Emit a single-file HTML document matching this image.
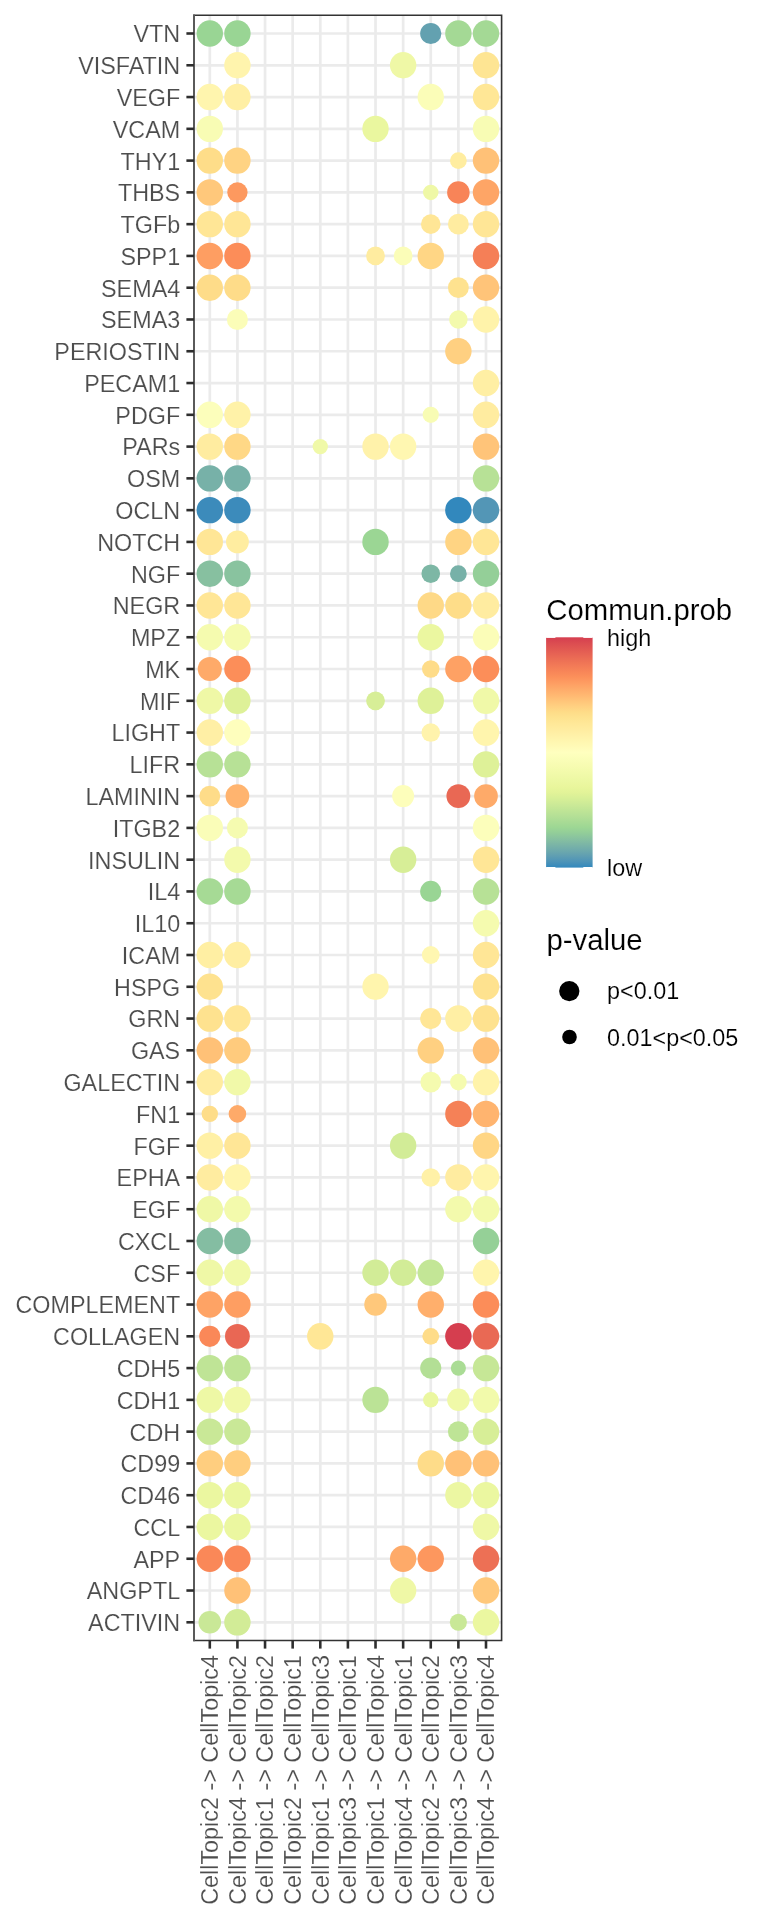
<!DOCTYPE html><html><head><meta charset="utf-8"><style>html,body{margin:0;padding:0;background:#fff;}svg{display:block;will-change:transform;}text{font-family:"Liberation Sans",sans-serif;}</style></head><body>
<svg width="768" height="1920" viewBox="0 0 768 1920">
<rect x="0" y="0" width="768" height="1920" fill="#FFFFFF"/>
<g stroke="#EBEBEB" stroke-width="2.7">
<line x1="209.80" y1="15.3" x2="209.80" y2="1640.5"/>
<line x1="237.42" y1="15.3" x2="237.42" y2="1640.5"/>
<line x1="265.04" y1="15.3" x2="265.04" y2="1640.5"/>
<line x1="292.66" y1="15.3" x2="292.66" y2="1640.5"/>
<line x1="320.28" y1="15.3" x2="320.28" y2="1640.5"/>
<line x1="347.90" y1="15.3" x2="347.90" y2="1640.5"/>
<line x1="375.52" y1="15.3" x2="375.52" y2="1640.5"/>
<line x1="403.14" y1="15.3" x2="403.14" y2="1640.5"/>
<line x1="430.76" y1="15.3" x2="430.76" y2="1640.5"/>
<line x1="458.38" y1="15.3" x2="458.38" y2="1640.5"/>
<line x1="486.00" y1="15.3" x2="486.00" y2="1640.5"/>
<line x1="194.0" y1="33.50" x2="501.6" y2="33.50"/>
<line x1="194.0" y1="65.28" x2="501.6" y2="65.28"/>
<line x1="194.0" y1="97.05" x2="501.6" y2="97.05"/>
<line x1="194.0" y1="128.83" x2="501.6" y2="128.83"/>
<line x1="194.0" y1="160.60" x2="501.6" y2="160.60"/>
<line x1="194.0" y1="192.38" x2="501.6" y2="192.38"/>
<line x1="194.0" y1="224.16" x2="501.6" y2="224.16"/>
<line x1="194.0" y1="255.93" x2="501.6" y2="255.93"/>
<line x1="194.0" y1="287.71" x2="501.6" y2="287.71"/>
<line x1="194.0" y1="319.48" x2="501.6" y2="319.48"/>
<line x1="194.0" y1="351.26" x2="501.6" y2="351.26"/>
<line x1="194.0" y1="383.04" x2="501.6" y2="383.04"/>
<line x1="194.0" y1="414.81" x2="501.6" y2="414.81"/>
<line x1="194.0" y1="446.59" x2="501.6" y2="446.59"/>
<line x1="194.0" y1="478.36" x2="501.6" y2="478.36"/>
<line x1="194.0" y1="510.14" x2="501.6" y2="510.14"/>
<line x1="194.0" y1="541.92" x2="501.6" y2="541.92"/>
<line x1="194.0" y1="573.69" x2="501.6" y2="573.69"/>
<line x1="194.0" y1="605.47" x2="501.6" y2="605.47"/>
<line x1="194.0" y1="637.24" x2="501.6" y2="637.24"/>
<line x1="194.0" y1="669.02" x2="501.6" y2="669.02"/>
<line x1="194.0" y1="700.80" x2="501.6" y2="700.80"/>
<line x1="194.0" y1="732.57" x2="501.6" y2="732.57"/>
<line x1="194.0" y1="764.35" x2="501.6" y2="764.35"/>
<line x1="194.0" y1="796.12" x2="501.6" y2="796.12"/>
<line x1="194.0" y1="827.90" x2="501.6" y2="827.90"/>
<line x1="194.0" y1="859.68" x2="501.6" y2="859.68"/>
<line x1="194.0" y1="891.45" x2="501.6" y2="891.45"/>
<line x1="194.0" y1="923.23" x2="501.6" y2="923.23"/>
<line x1="194.0" y1="955.00" x2="501.6" y2="955.00"/>
<line x1="194.0" y1="986.78" x2="501.6" y2="986.78"/>
<line x1="194.0" y1="1018.56" x2="501.6" y2="1018.56"/>
<line x1="194.0" y1="1050.33" x2="501.6" y2="1050.33"/>
<line x1="194.0" y1="1082.11" x2="501.6" y2="1082.11"/>
<line x1="194.0" y1="1113.88" x2="501.6" y2="1113.88"/>
<line x1="194.0" y1="1145.66" x2="501.6" y2="1145.66"/>
<line x1="194.0" y1="1177.44" x2="501.6" y2="1177.44"/>
<line x1="194.0" y1="1209.21" x2="501.6" y2="1209.21"/>
<line x1="194.0" y1="1240.99" x2="501.6" y2="1240.99"/>
<line x1="194.0" y1="1272.76" x2="501.6" y2="1272.76"/>
<line x1="194.0" y1="1304.54" x2="501.6" y2="1304.54"/>
<line x1="194.0" y1="1336.32" x2="501.6" y2="1336.32"/>
<line x1="194.0" y1="1368.09" x2="501.6" y2="1368.09"/>
<line x1="194.0" y1="1399.87" x2="501.6" y2="1399.87"/>
<line x1="194.0" y1="1431.64" x2="501.6" y2="1431.64"/>
<line x1="194.0" y1="1463.42" x2="501.6" y2="1463.42"/>
<line x1="194.0" y1="1495.20" x2="501.6" y2="1495.20"/>
<line x1="194.0" y1="1526.97" x2="501.6" y2="1526.97"/>
<line x1="194.0" y1="1558.75" x2="501.6" y2="1558.75"/>
<line x1="194.0" y1="1590.52" x2="501.6" y2="1590.52"/>
<line x1="194.0" y1="1622.30" x2="501.6" y2="1622.30"/>
</g>
<g>
<circle cx="209.80" cy="33.50" r="13.20" fill="#99D594"/>
<circle cx="237.42" cy="33.50" r="13.20" fill="#99D594"/>
<circle cx="430.76" cy="33.50" r="10.60" fill="#63A1B0"/>
<circle cx="458.38" cy="33.50" r="13.20" fill="#A4D995"/>
<circle cx="486.00" cy="33.50" r="13.20" fill="#A4D995"/>
<circle cx="237.42" cy="65.28" r="13.20" fill="#FFF4AD"/>
<circle cx="403.14" cy="65.28" r="13.20" fill="#EFF8A6"/>
<circle cx="486.00" cy="65.28" r="13.20" fill="#FEE593"/>
<circle cx="209.80" cy="97.05" r="13.20" fill="#FFF5AE"/>
<circle cx="237.42" cy="97.05" r="13.20" fill="#FFEFA4"/>
<circle cx="430.76" cy="97.05" r="13.20" fill="#FBFDB8"/>
<circle cx="486.00" cy="97.05" r="13.20" fill="#FFE796"/>
<circle cx="209.80" cy="128.83" r="13.20" fill="#F8FCB4"/>
<circle cx="375.52" cy="128.83" r="13.20" fill="#EAF79F"/>
<circle cx="486.00" cy="128.83" r="13.20" fill="#F8FCB4"/>
<circle cx="209.80" cy="160.60" r="13.20" fill="#FEDD89"/>
<circle cx="237.42" cy="160.60" r="13.20" fill="#FFD383"/>
<circle cx="458.38" cy="160.60" r="8.40" fill="#FFEDA0"/>
<circle cx="486.00" cy="160.60" r="13.20" fill="#FFC177"/>
<circle cx="209.80" cy="192.38" r="13.20" fill="#FFC87B"/>
<circle cx="237.42" cy="192.38" r="10.15" fill="#FD995F"/>
<circle cx="430.76" cy="192.38" r="7.75" fill="#EFF8A6"/>
<circle cx="458.38" cy="192.38" r="11.25" fill="#F88458"/>
<circle cx="486.00" cy="192.38" r="13.20" fill="#FEA566"/>
<circle cx="209.80" cy="224.16" r="13.20" fill="#FFE696"/>
<circle cx="237.42" cy="224.16" r="13.20" fill="#FFE696"/>
<circle cx="430.76" cy="224.16" r="9.80" fill="#FFE696"/>
<circle cx="458.38" cy="224.16" r="10.45" fill="#FFECA0"/>
<circle cx="486.00" cy="224.16" r="13.20" fill="#FFE696"/>
<circle cx="209.80" cy="255.93" r="13.20" fill="#FE9E62"/>
<circle cx="237.42" cy="255.93" r="13.20" fill="#FC8D59"/>
<circle cx="375.52" cy="255.93" r="9.40" fill="#FFECA0"/>
<circle cx="403.14" cy="255.93" r="9.40" fill="#FBFDB8"/>
<circle cx="430.76" cy="255.93" r="13.20" fill="#FFD685"/>
<circle cx="486.00" cy="255.93" r="13.20" fill="#F57F57"/>
<circle cx="209.80" cy="287.71" r="13.20" fill="#FEDC89"/>
<circle cx="237.42" cy="287.71" r="13.20" fill="#FEDC89"/>
<circle cx="458.38" cy="287.71" r="10.40" fill="#FEE28F"/>
<circle cx="486.00" cy="287.71" r="13.20" fill="#FFC479"/>
<circle cx="237.42" cy="319.48" r="10.55" fill="#FBFDB8"/>
<circle cx="458.38" cy="319.48" r="9.30" fill="#F3FAAD"/>
<circle cx="486.00" cy="319.48" r="13.20" fill="#FFF3AA"/>
<circle cx="458.38" cy="351.26" r="13.20" fill="#FFD081"/>
<circle cx="486.00" cy="383.04" r="13.20" fill="#FFEFA4"/>
<circle cx="209.80" cy="414.81" r="13.20" fill="#FCFEBB"/>
<circle cx="237.42" cy="414.81" r="13.20" fill="#FFF2A8"/>
<circle cx="430.76" cy="414.81" r="8.10" fill="#F8FCB4"/>
<circle cx="486.00" cy="414.81" r="13.20" fill="#FFECA0"/>
<circle cx="209.80" cy="446.59" r="13.20" fill="#FFECA0"/>
<circle cx="237.42" cy="446.59" r="13.20" fill="#FFD886"/>
<circle cx="320.28" cy="446.59" r="7.70" fill="#F0F9A8"/>
<circle cx="375.52" cy="446.59" r="13.20" fill="#FFF2AA"/>
<circle cx="403.14" cy="446.59" r="13.20" fill="#FFF7B1"/>
<circle cx="486.00" cy="446.59" r="13.20" fill="#FFC479"/>
<circle cx="209.80" cy="478.36" r="13.20" fill="#77B1A8"/>
<circle cx="237.42" cy="478.36" r="13.20" fill="#77B1A8"/>
<circle cx="486.00" cy="478.36" r="13.20" fill="#B7E196"/>
<circle cx="209.80" cy="510.14" r="13.20" fill="#3C8BBB"/>
<circle cx="237.42" cy="510.14" r="13.20" fill="#3C8BBB"/>
<circle cx="458.38" cy="510.14" r="13.20" fill="#3288BD"/>
<circle cx="486.00" cy="510.14" r="13.20" fill="#5396B6"/>
<circle cx="209.80" cy="541.92" r="13.20" fill="#FFE696"/>
<circle cx="237.42" cy="541.92" r="11.40" fill="#FFEDA0"/>
<circle cx="375.52" cy="541.92" r="13.20" fill="#9BD694"/>
<circle cx="458.38" cy="541.92" r="13.20" fill="#FFD483"/>
<circle cx="486.00" cy="541.92" r="13.20" fill="#FFE696"/>
<circle cx="209.80" cy="573.69" r="13.20" fill="#87C0A0"/>
<circle cx="237.42" cy="573.69" r="13.20" fill="#89C39F"/>
<circle cx="430.76" cy="573.69" r="9.30" fill="#7DB7A5"/>
<circle cx="458.38" cy="573.69" r="8.40" fill="#77B1A8"/>
<circle cx="486.00" cy="573.69" r="13.20" fill="#94CF98"/>
<circle cx="209.80" cy="605.47" r="13.20" fill="#FFE696"/>
<circle cx="237.42" cy="605.47" r="13.20" fill="#FFE696"/>
<circle cx="430.76" cy="605.47" r="13.20" fill="#FED987"/>
<circle cx="458.38" cy="605.47" r="13.20" fill="#FEDD89"/>
<circle cx="486.00" cy="605.47" r="13.20" fill="#FFECA0"/>
<circle cx="209.80" cy="637.24" r="13.20" fill="#F5FBAF"/>
<circle cx="237.42" cy="637.24" r="13.20" fill="#F5FBAF"/>
<circle cx="430.76" cy="637.24" r="13.20" fill="#EBF7A0"/>
<circle cx="486.00" cy="637.24" r="13.20" fill="#FBFDB8"/>
<circle cx="209.80" cy="669.02" r="12.05" fill="#FEAA69"/>
<circle cx="237.42" cy="669.02" r="13.20" fill="#FC8E59"/>
<circle cx="430.76" cy="669.02" r="8.75" fill="#FEDC89"/>
<circle cx="458.38" cy="669.02" r="13.20" fill="#FEA164"/>
<circle cx="486.00" cy="669.02" r="13.20" fill="#FC8E59"/>
<circle cx="209.80" cy="700.80" r="13.20" fill="#EFF8A6"/>
<circle cx="237.42" cy="700.80" r="13.20" fill="#DEF198"/>
<circle cx="375.52" cy="700.80" r="9.40" fill="#D7EE97"/>
<circle cx="430.76" cy="700.80" r="13.20" fill="#DEF198"/>
<circle cx="486.00" cy="700.80" r="13.20" fill="#F0F9A8"/>
<circle cx="209.80" cy="732.57" r="13.20" fill="#FFEFA5"/>
<circle cx="237.42" cy="732.57" r="13.20" fill="#FEFEBD"/>
<circle cx="430.76" cy="732.57" r="9.30" fill="#FFF3AC"/>
<circle cx="486.00" cy="732.57" r="13.20" fill="#FFF5AD"/>
<circle cx="209.80" cy="764.35" r="13.20" fill="#B7E196"/>
<circle cx="237.42" cy="764.35" r="13.20" fill="#B7E196"/>
<circle cx="486.00" cy="764.35" r="13.20" fill="#DEF198"/>
<circle cx="209.80" cy="796.12" r="10.45" fill="#FEDC89"/>
<circle cx="237.42" cy="796.12" r="11.85" fill="#FFB46F"/>
<circle cx="403.14" cy="796.12" r="11.00" fill="#FDFEBB"/>
<circle cx="458.38" cy="796.12" r="11.95" fill="#E96854"/>
<circle cx="486.00" cy="796.12" r="11.85" fill="#FEAA69"/>
<circle cx="209.80" cy="827.90" r="13.20" fill="#FAFDB8"/>
<circle cx="237.42" cy="827.90" r="10.55" fill="#F5FBB0"/>
<circle cx="486.00" cy="827.90" r="13.20" fill="#FCFEBB"/>
<circle cx="237.42" cy="859.68" r="13.20" fill="#F3FAAC"/>
<circle cx="403.14" cy="859.68" r="13.20" fill="#D7EE97"/>
<circle cx="486.00" cy="859.68" r="13.20" fill="#FFE696"/>
<circle cx="209.80" cy="891.45" r="13.20" fill="#A6DA95"/>
<circle cx="237.42" cy="891.45" r="13.20" fill="#A6DA95"/>
<circle cx="430.76" cy="891.45" r="10.60" fill="#99D594"/>
<circle cx="486.00" cy="891.45" r="13.20" fill="#B7E196"/>
<circle cx="486.00" cy="923.23" r="13.20" fill="#F5FBAF"/>
<circle cx="209.80" cy="955.00" r="13.20" fill="#FFEFA3"/>
<circle cx="237.42" cy="955.00" r="13.20" fill="#FFEEA2"/>
<circle cx="430.76" cy="955.00" r="8.90" fill="#FFF7B1"/>
<circle cx="486.00" cy="955.00" r="13.20" fill="#FFE696"/>
<circle cx="209.80" cy="986.78" r="13.20" fill="#FEE28F"/>
<circle cx="375.52" cy="986.78" r="13.20" fill="#FFF5AD"/>
<circle cx="486.00" cy="986.78" r="13.20" fill="#FEE28F"/>
<circle cx="209.80" cy="1018.56" r="13.20" fill="#FEE28F"/>
<circle cx="237.42" cy="1018.56" r="13.20" fill="#FFE696"/>
<circle cx="430.76" cy="1018.56" r="10.60" fill="#FFE696"/>
<circle cx="458.38" cy="1018.56" r="13.20" fill="#FFEFA4"/>
<circle cx="486.00" cy="1018.56" r="13.20" fill="#FEE28F"/>
<circle cx="209.80" cy="1050.33" r="13.20" fill="#FFC177"/>
<circle cx="237.42" cy="1050.33" r="13.20" fill="#FFCB7D"/>
<circle cx="430.76" cy="1050.33" r="13.20" fill="#FFD081"/>
<circle cx="486.00" cy="1050.33" r="13.20" fill="#FFC177"/>
<circle cx="209.80" cy="1082.11" r="13.20" fill="#FFECA0"/>
<circle cx="237.42" cy="1082.11" r="13.20" fill="#F1F9A9"/>
<circle cx="430.76" cy="1082.11" r="10.40" fill="#F5FBAF"/>
<circle cx="458.38" cy="1082.11" r="8.40" fill="#F5FBAF"/>
<circle cx="486.00" cy="1082.11" r="13.20" fill="#FFF3AA"/>
<circle cx="209.80" cy="1113.88" r="8.20" fill="#FEDD89"/>
<circle cx="237.42" cy="1113.88" r="8.80" fill="#FEAA69"/>
<circle cx="458.38" cy="1113.88" r="13.20" fill="#F58157"/>
<circle cx="486.00" cy="1113.88" r="13.20" fill="#FFB46F"/>
<circle cx="209.80" cy="1145.66" r="13.20" fill="#FFF0A5"/>
<circle cx="237.42" cy="1145.66" r="13.20" fill="#FFE696"/>
<circle cx="403.14" cy="1145.66" r="13.20" fill="#D2EC97"/>
<circle cx="486.00" cy="1145.66" r="13.20" fill="#FFD685"/>
<circle cx="209.80" cy="1177.44" r="13.20" fill="#FFECA0"/>
<circle cx="237.42" cy="1177.44" r="13.20" fill="#FFF5AD"/>
<circle cx="430.76" cy="1177.44" r="9.30" fill="#FFF1A7"/>
<circle cx="458.38" cy="1177.44" r="13.20" fill="#FFECA0"/>
<circle cx="486.00" cy="1177.44" r="13.20" fill="#FFF5AD"/>
<circle cx="209.80" cy="1209.21" r="13.20" fill="#EFF8A6"/>
<circle cx="237.42" cy="1209.21" r="13.20" fill="#F3FAAC"/>
<circle cx="458.38" cy="1209.21" r="13.20" fill="#F3FAAC"/>
<circle cx="486.00" cy="1209.21" r="13.20" fill="#F3FAAC"/>
<circle cx="209.80" cy="1240.99" r="13.20" fill="#84BDA2"/>
<circle cx="237.42" cy="1240.99" r="13.20" fill="#84BDA2"/>
<circle cx="486.00" cy="1240.99" r="13.20" fill="#95D097"/>
<circle cx="209.80" cy="1272.76" r="13.20" fill="#EFF8A6"/>
<circle cx="237.42" cy="1272.76" r="13.20" fill="#F1F9A9"/>
<circle cx="375.52" cy="1272.76" r="13.20" fill="#D2EC97"/>
<circle cx="403.14" cy="1272.76" r="13.20" fill="#D2EC97"/>
<circle cx="430.76" cy="1272.76" r="13.20" fill="#C3E696"/>
<circle cx="486.00" cy="1272.76" r="13.20" fill="#FFF5AD"/>
<circle cx="209.80" cy="1304.54" r="13.20" fill="#FEA365"/>
<circle cx="237.42" cy="1304.54" r="13.20" fill="#FE9E62"/>
<circle cx="375.52" cy="1304.54" r="11.25" fill="#FFC87B"/>
<circle cx="430.76" cy="1304.54" r="13.20" fill="#FFAF6C"/>
<circle cx="486.00" cy="1304.54" r="13.20" fill="#FC8D59"/>
<circle cx="209.80" cy="1336.32" r="10.60" fill="#FA8858"/>
<circle cx="237.42" cy="1336.32" r="12.40" fill="#E96754"/>
<circle cx="320.28" cy="1336.32" r="13.20" fill="#FFE796"/>
<circle cx="430.76" cy="1336.32" r="8.40" fill="#FEDC89"/>
<circle cx="458.38" cy="1336.32" r="13.20" fill="#D53E4F"/>
<circle cx="486.00" cy="1336.32" r="13.20" fill="#E96954"/>
<circle cx="209.80" cy="1368.09" r="13.20" fill="#BFE496"/>
<circle cx="237.42" cy="1368.09" r="13.20" fill="#BFE496"/>
<circle cx="430.76" cy="1368.09" r="10.60" fill="#B3DF95"/>
<circle cx="458.38" cy="1368.09" r="7.55" fill="#AADC95"/>
<circle cx="486.00" cy="1368.09" r="13.20" fill="#C6E796"/>
<circle cx="209.80" cy="1399.87" r="13.20" fill="#EEF8A5"/>
<circle cx="237.42" cy="1399.87" r="13.20" fill="#F1F9A9"/>
<circle cx="375.52" cy="1399.87" r="13.20" fill="#BBE396"/>
<circle cx="430.76" cy="1399.87" r="7.75" fill="#EBF7A0"/>
<circle cx="458.38" cy="1399.87" r="11.25" fill="#F0F9A8"/>
<circle cx="486.00" cy="1399.87" r="13.20" fill="#F2FAAB"/>
<circle cx="209.80" cy="1431.64" r="13.20" fill="#C9E897"/>
<circle cx="237.42" cy="1431.64" r="13.20" fill="#C9E897"/>
<circle cx="458.38" cy="1431.64" r="10.45" fill="#BEE496"/>
<circle cx="486.00" cy="1431.64" r="13.20" fill="#D7EE97"/>
<circle cx="209.80" cy="1463.42" r="13.20" fill="#FFCE7F"/>
<circle cx="237.42" cy="1463.42" r="13.20" fill="#FFCE7F"/>
<circle cx="430.76" cy="1463.42" r="13.20" fill="#FEDC89"/>
<circle cx="458.38" cy="1463.42" r="13.20" fill="#FFC177"/>
<circle cx="486.00" cy="1463.42" r="13.20" fill="#FFC177"/>
<circle cx="209.80" cy="1495.20" r="13.20" fill="#EBF7A0"/>
<circle cx="237.42" cy="1495.20" r="13.20" fill="#EBF7A0"/>
<circle cx="458.38" cy="1495.20" r="13.20" fill="#ECF7A2"/>
<circle cx="486.00" cy="1495.20" r="13.20" fill="#EBF7A0"/>
<circle cx="209.80" cy="1526.97" r="13.20" fill="#EBF7A0"/>
<circle cx="237.42" cy="1526.97" r="13.20" fill="#EBF7A0"/>
<circle cx="486.00" cy="1526.97" r="13.20" fill="#EFF8A6"/>
<circle cx="209.80" cy="1558.75" r="13.20" fill="#FA8858"/>
<circle cx="237.42" cy="1558.75" r="13.20" fill="#FA8858"/>
<circle cx="403.14" cy="1558.75" r="13.20" fill="#FEAA69"/>
<circle cx="430.76" cy="1558.75" r="13.20" fill="#FD975E"/>
<circle cx="486.00" cy="1558.75" r="13.20" fill="#ED7055"/>
<circle cx="237.42" cy="1590.52" r="13.20" fill="#FFC177"/>
<circle cx="403.14" cy="1590.52" r="13.20" fill="#EFF8A6"/>
<circle cx="486.00" cy="1590.52" r="13.20" fill="#FFC87B"/>
<circle cx="209.80" cy="1622.30" r="11.30" fill="#C9E897"/>
<circle cx="237.42" cy="1622.30" r="13.20" fill="#D2EC97"/>
<circle cx="458.38" cy="1622.30" r="8.55" fill="#C9E897"/>
<circle cx="486.00" cy="1622.30" r="13.20" fill="#EBF7A0"/>
</g>
<path d="M194.0,15.3 H501.6 V1640.5 H194.0" fill="none" stroke="#333333" stroke-width="1.6" stroke-linecap="square"/>
<line x1="194.0" y1="14.5" x2="194.0" y2="1641.3" stroke="#5A5A5A" stroke-width="2.0"/>
<g stroke="#2E2E2E" stroke-width="2.6">
<line x1="186.40" y1="33.50" x2="194.0" y2="33.50"/>
<line x1="186.40" y1="65.28" x2="194.0" y2="65.28"/>
<line x1="186.40" y1="97.05" x2="194.0" y2="97.05"/>
<line x1="186.40" y1="128.83" x2="194.0" y2="128.83"/>
<line x1="186.40" y1="160.60" x2="194.0" y2="160.60"/>
<line x1="186.40" y1="192.38" x2="194.0" y2="192.38"/>
<line x1="186.40" y1="224.16" x2="194.0" y2="224.16"/>
<line x1="186.40" y1="255.93" x2="194.0" y2="255.93"/>
<line x1="186.40" y1="287.71" x2="194.0" y2="287.71"/>
<line x1="186.40" y1="319.48" x2="194.0" y2="319.48"/>
<line x1="186.40" y1="351.26" x2="194.0" y2="351.26"/>
<line x1="186.40" y1="383.04" x2="194.0" y2="383.04"/>
<line x1="186.40" y1="414.81" x2="194.0" y2="414.81"/>
<line x1="186.40" y1="446.59" x2="194.0" y2="446.59"/>
<line x1="186.40" y1="478.36" x2="194.0" y2="478.36"/>
<line x1="186.40" y1="510.14" x2="194.0" y2="510.14"/>
<line x1="186.40" y1="541.92" x2="194.0" y2="541.92"/>
<line x1="186.40" y1="573.69" x2="194.0" y2="573.69"/>
<line x1="186.40" y1="605.47" x2="194.0" y2="605.47"/>
<line x1="186.40" y1="637.24" x2="194.0" y2="637.24"/>
<line x1="186.40" y1="669.02" x2="194.0" y2="669.02"/>
<line x1="186.40" y1="700.80" x2="194.0" y2="700.80"/>
<line x1="186.40" y1="732.57" x2="194.0" y2="732.57"/>
<line x1="186.40" y1="764.35" x2="194.0" y2="764.35"/>
<line x1="186.40" y1="796.12" x2="194.0" y2="796.12"/>
<line x1="186.40" y1="827.90" x2="194.0" y2="827.90"/>
<line x1="186.40" y1="859.68" x2="194.0" y2="859.68"/>
<line x1="186.40" y1="891.45" x2="194.0" y2="891.45"/>
<line x1="186.40" y1="923.23" x2="194.0" y2="923.23"/>
<line x1="186.40" y1="955.00" x2="194.0" y2="955.00"/>
<line x1="186.40" y1="986.78" x2="194.0" y2="986.78"/>
<line x1="186.40" y1="1018.56" x2="194.0" y2="1018.56"/>
<line x1="186.40" y1="1050.33" x2="194.0" y2="1050.33"/>
<line x1="186.40" y1="1082.11" x2="194.0" y2="1082.11"/>
<line x1="186.40" y1="1113.88" x2="194.0" y2="1113.88"/>
<line x1="186.40" y1="1145.66" x2="194.0" y2="1145.66"/>
<line x1="186.40" y1="1177.44" x2="194.0" y2="1177.44"/>
<line x1="186.40" y1="1209.21" x2="194.0" y2="1209.21"/>
<line x1="186.40" y1="1240.99" x2="194.0" y2="1240.99"/>
<line x1="186.40" y1="1272.76" x2="194.0" y2="1272.76"/>
<line x1="186.40" y1="1304.54" x2="194.0" y2="1304.54"/>
<line x1="186.40" y1="1336.32" x2="194.0" y2="1336.32"/>
<line x1="186.40" y1="1368.09" x2="194.0" y2="1368.09"/>
<line x1="186.40" y1="1399.87" x2="194.0" y2="1399.87"/>
<line x1="186.40" y1="1431.64" x2="194.0" y2="1431.64"/>
<line x1="186.40" y1="1463.42" x2="194.0" y2="1463.42"/>
<line x1="186.40" y1="1495.20" x2="194.0" y2="1495.20"/>
<line x1="186.40" y1="1526.97" x2="194.0" y2="1526.97"/>
<line x1="186.40" y1="1558.75" x2="194.0" y2="1558.75"/>
<line x1="186.40" y1="1590.52" x2="194.0" y2="1590.52"/>
<line x1="186.40" y1="1622.30" x2="194.0" y2="1622.30"/>
<line x1="209.80" y1="1640.5" x2="209.80" y2="1648.60"/>
<line x1="237.42" y1="1640.5" x2="237.42" y2="1648.60"/>
<line x1="265.04" y1="1640.5" x2="265.04" y2="1648.60"/>
<line x1="292.66" y1="1640.5" x2="292.66" y2="1648.60"/>
<line x1="320.28" y1="1640.5" x2="320.28" y2="1648.60"/>
<line x1="347.90" y1="1640.5" x2="347.90" y2="1648.60"/>
<line x1="375.52" y1="1640.5" x2="375.52" y2="1648.60"/>
<line x1="403.14" y1="1640.5" x2="403.14" y2="1648.60"/>
<line x1="430.76" y1="1640.5" x2="430.76" y2="1648.60"/>
<line x1="458.38" y1="1640.5" x2="458.38" y2="1648.60"/>
<line x1="486.00" y1="1640.5" x2="486.00" y2="1648.60"/>
</g>
<g fill="#4D4D4D" font-size="23.35" text-anchor="end" stroke="#FFFFFF" stroke-width="0.15">
<text x="180.2" y="42.40">VTN</text>
<text x="180.2" y="74.18">VISFATIN</text>
<text x="180.2" y="105.95">VEGF</text>
<text x="180.2" y="137.73">VCAM</text>
<text x="180.2" y="169.50">THY1</text>
<text x="180.2" y="201.28">THBS</text>
<text x="180.2" y="233.06">TGFb</text>
<text x="180.2" y="264.83">SPP1</text>
<text x="180.2" y="296.61">SEMA4</text>
<text x="180.2" y="328.38">SEMA3</text>
<text x="180.2" y="360.16">PERIOSTIN</text>
<text x="180.2" y="391.94">PECAM1</text>
<text x="180.2" y="423.71">PDGF</text>
<text x="180.2" y="455.49">PARs</text>
<text x="180.2" y="487.26">OSM</text>
<text x="180.2" y="519.04">OCLN</text>
<text x="180.2" y="550.82">NOTCH</text>
<text x="180.2" y="582.59">NGF</text>
<text x="180.2" y="614.37">NEGR</text>
<text x="180.2" y="646.14">MPZ</text>
<text x="180.2" y="677.92">MK</text>
<text x="180.2" y="709.70">MIF</text>
<text x="180.2" y="741.47">LIGHT</text>
<text x="180.2" y="773.25">LIFR</text>
<text x="180.2" y="805.02">LAMININ</text>
<text x="180.2" y="836.80">ITGB2</text>
<text x="180.2" y="868.58">INSULIN</text>
<text x="180.2" y="900.35">IL4</text>
<text x="180.2" y="932.13">IL10</text>
<text x="180.2" y="963.90">ICAM</text>
<text x="180.2" y="995.68">HSPG</text>
<text x="180.2" y="1027.46">GRN</text>
<text x="180.2" y="1059.23">GAS</text>
<text x="180.2" y="1091.01">GALECTIN</text>
<text x="180.2" y="1122.78">FN1</text>
<text x="180.2" y="1154.56">FGF</text>
<text x="180.2" y="1186.34">EPHA</text>
<text x="180.2" y="1218.11">EGF</text>
<text x="180.2" y="1249.89">CXCL</text>
<text x="180.2" y="1281.66">CSF</text>
<text x="180.2" y="1313.44">COMPLEMENT</text>
<text x="180.2" y="1345.22">COLLAGEN</text>
<text x="180.2" y="1376.99">CDH5</text>
<text x="180.2" y="1408.77">CDH1</text>
<text x="180.2" y="1440.54">CDH</text>
<text x="180.2" y="1472.32">CD99</text>
<text x="180.2" y="1504.10">CD46</text>
<text x="180.2" y="1535.87">CCL</text>
<text x="180.2" y="1567.65">APP</text>
<text x="180.2" y="1599.42">ANGPTL</text>
<text x="180.2" y="1631.20">ACTIVIN</text>
</g>
<g fill="#4D4D4D" font-size="23.35" text-anchor="end" stroke="#FFFFFF" stroke-width="0.15">
<text transform="translate(218.20,1655) rotate(-90)" x="0" y="0">CellTopic2 -&gt; CellTopic4</text>
<text transform="translate(245.82,1655) rotate(-90)" x="0" y="0">CellTopic4 -&gt; CellTopic2</text>
<text transform="translate(273.44,1655) rotate(-90)" x="0" y="0">CellTopic1 -&gt; CellTopic2</text>
<text transform="translate(301.06,1655) rotate(-90)" x="0" y="0">CellTopic2 -&gt; CellTopic1</text>
<text transform="translate(328.68,1655) rotate(-90)" x="0" y="0">CellTopic1 -&gt; CellTopic3</text>
<text transform="translate(356.30,1655) rotate(-90)" x="0" y="0">CellTopic3 -&gt; CellTopic1</text>
<text transform="translate(383.92,1655) rotate(-90)" x="0" y="0">CellTopic1 -&gt; CellTopic4</text>
<text transform="translate(411.54,1655) rotate(-90)" x="0" y="0">CellTopic4 -&gt; CellTopic1</text>
<text transform="translate(439.16,1655) rotate(-90)" x="0" y="0">CellTopic2 -&gt; CellTopic2</text>
<text transform="translate(466.78,1655) rotate(-90)" x="0" y="0">CellTopic3 -&gt; CellTopic3</text>
<text transform="translate(494.40,1655) rotate(-90)" x="0" y="0">CellTopic4 -&gt; CellTopic4</text>
</g>
<defs><linearGradient id="cb" x1="0" y1="1" x2="0" y2="0">
<stop offset="0.000" stop-color="#3288BD"/>
<stop offset="0.025" stop-color="#4C93B8"/>
<stop offset="0.050" stop-color="#5F9EB2"/>
<stop offset="0.075" stop-color="#6EAAAC"/>
<stop offset="0.100" stop-color="#7BB5A6"/>
<stop offset="0.125" stop-color="#87C1A0"/>
<stop offset="0.150" stop-color="#92CD99"/>
<stop offset="0.175" stop-color="#9DD794"/>
<stop offset="0.200" stop-color="#A9DB95"/>
<stop offset="0.225" stop-color="#B5E096"/>
<stop offset="0.250" stop-color="#C0E596"/>
<stop offset="0.275" stop-color="#CCEA97"/>
<stop offset="0.300" stop-color="#D7EF97"/>
<stop offset="0.325" stop-color="#E2F398"/>
<stop offset="0.350" stop-color="#E9F69C"/>
<stop offset="0.375" stop-color="#ECF8A2"/>
<stop offset="0.400" stop-color="#F0F9A8"/>
<stop offset="0.425" stop-color="#F4FBAD"/>
<stop offset="0.450" stop-color="#F8FCB3"/>
<stop offset="0.475" stop-color="#FBFEB9"/>
<stop offset="0.500" stop-color="#FFFFBF"/>
<stop offset="0.525" stop-color="#FFFAB7"/>
<stop offset="0.550" stop-color="#FFF6AF"/>
<stop offset="0.575" stop-color="#FFF1A8"/>
<stop offset="0.600" stop-color="#FFECA0"/>
<stop offset="0.625" stop-color="#FFE898"/>
<stop offset="0.650" stop-color="#FEE390"/>
<stop offset="0.675" stop-color="#FEDC88"/>
<stop offset="0.700" stop-color="#FFD081"/>
<stop offset="0.725" stop-color="#FFC479"/>
<stop offset="0.750" stop-color="#FFB771"/>
<stop offset="0.775" stop-color="#FEAB6A"/>
<stop offset="0.800" stop-color="#FE9E63"/>
<stop offset="0.825" stop-color="#FC915B"/>
<stop offset="0.850" stop-color="#F88658"/>
<stop offset="0.875" stop-color="#F37B57"/>
<stop offset="0.900" stop-color="#ED7055"/>
<stop offset="0.925" stop-color="#E76454"/>
<stop offset="0.950" stop-color="#E15852"/>
<stop offset="0.975" stop-color="#DB4C51"/>
<stop offset="1.000" stop-color="#D53E4F"/>
</linearGradient></defs>
<text x="546.2" y="619.6" font-size="29.35" fill="#000" stroke="#FFFFFF" stroke-width="0.15">Commun.prob</text>
<rect x="546.1" y="637.3" width="46.5" height="230.30" fill="url(#cb)"/>
<g stroke="#FFFFFF" stroke-width="1.2">
<line x1="546.1" y1="637.3" x2="555.40" y2="637.3"/>
<line x1="583.30" y1="637.3" x2="592.6" y2="637.3"/>
<line x1="546.1" y1="867.6" x2="555.40" y2="867.6"/>
<line x1="583.30" y1="867.6" x2="592.6" y2="867.6"/>
</g>
<text x="607" y="645.8" font-size="23.4" fill="#000" stroke="#FFFFFF" stroke-width="0.15">high</text>
<text x="607" y="876" font-size="23.4" fill="#000" stroke="#FFFFFF" stroke-width="0.15">low</text>
<text x="546.4" y="950" font-size="29.35" fill="#000" stroke="#FFFFFF" stroke-width="0.15">p-value</text>
<circle cx="569.3" cy="991.1" r="10.15" fill="#000"/>
<circle cx="569.5" cy="1037" r="7.3" fill="#000"/>
<text x="607" y="998.6" font-size="23.4" fill="#000" stroke="#FFFFFF" stroke-width="0.15">p&lt;0.01</text>
<text x="607" y="1045.5" font-size="23.4" fill="#000" stroke="#FFFFFF" stroke-width="0.15">0.01&lt;p&lt;0.05</text>
</svg></body></html>
